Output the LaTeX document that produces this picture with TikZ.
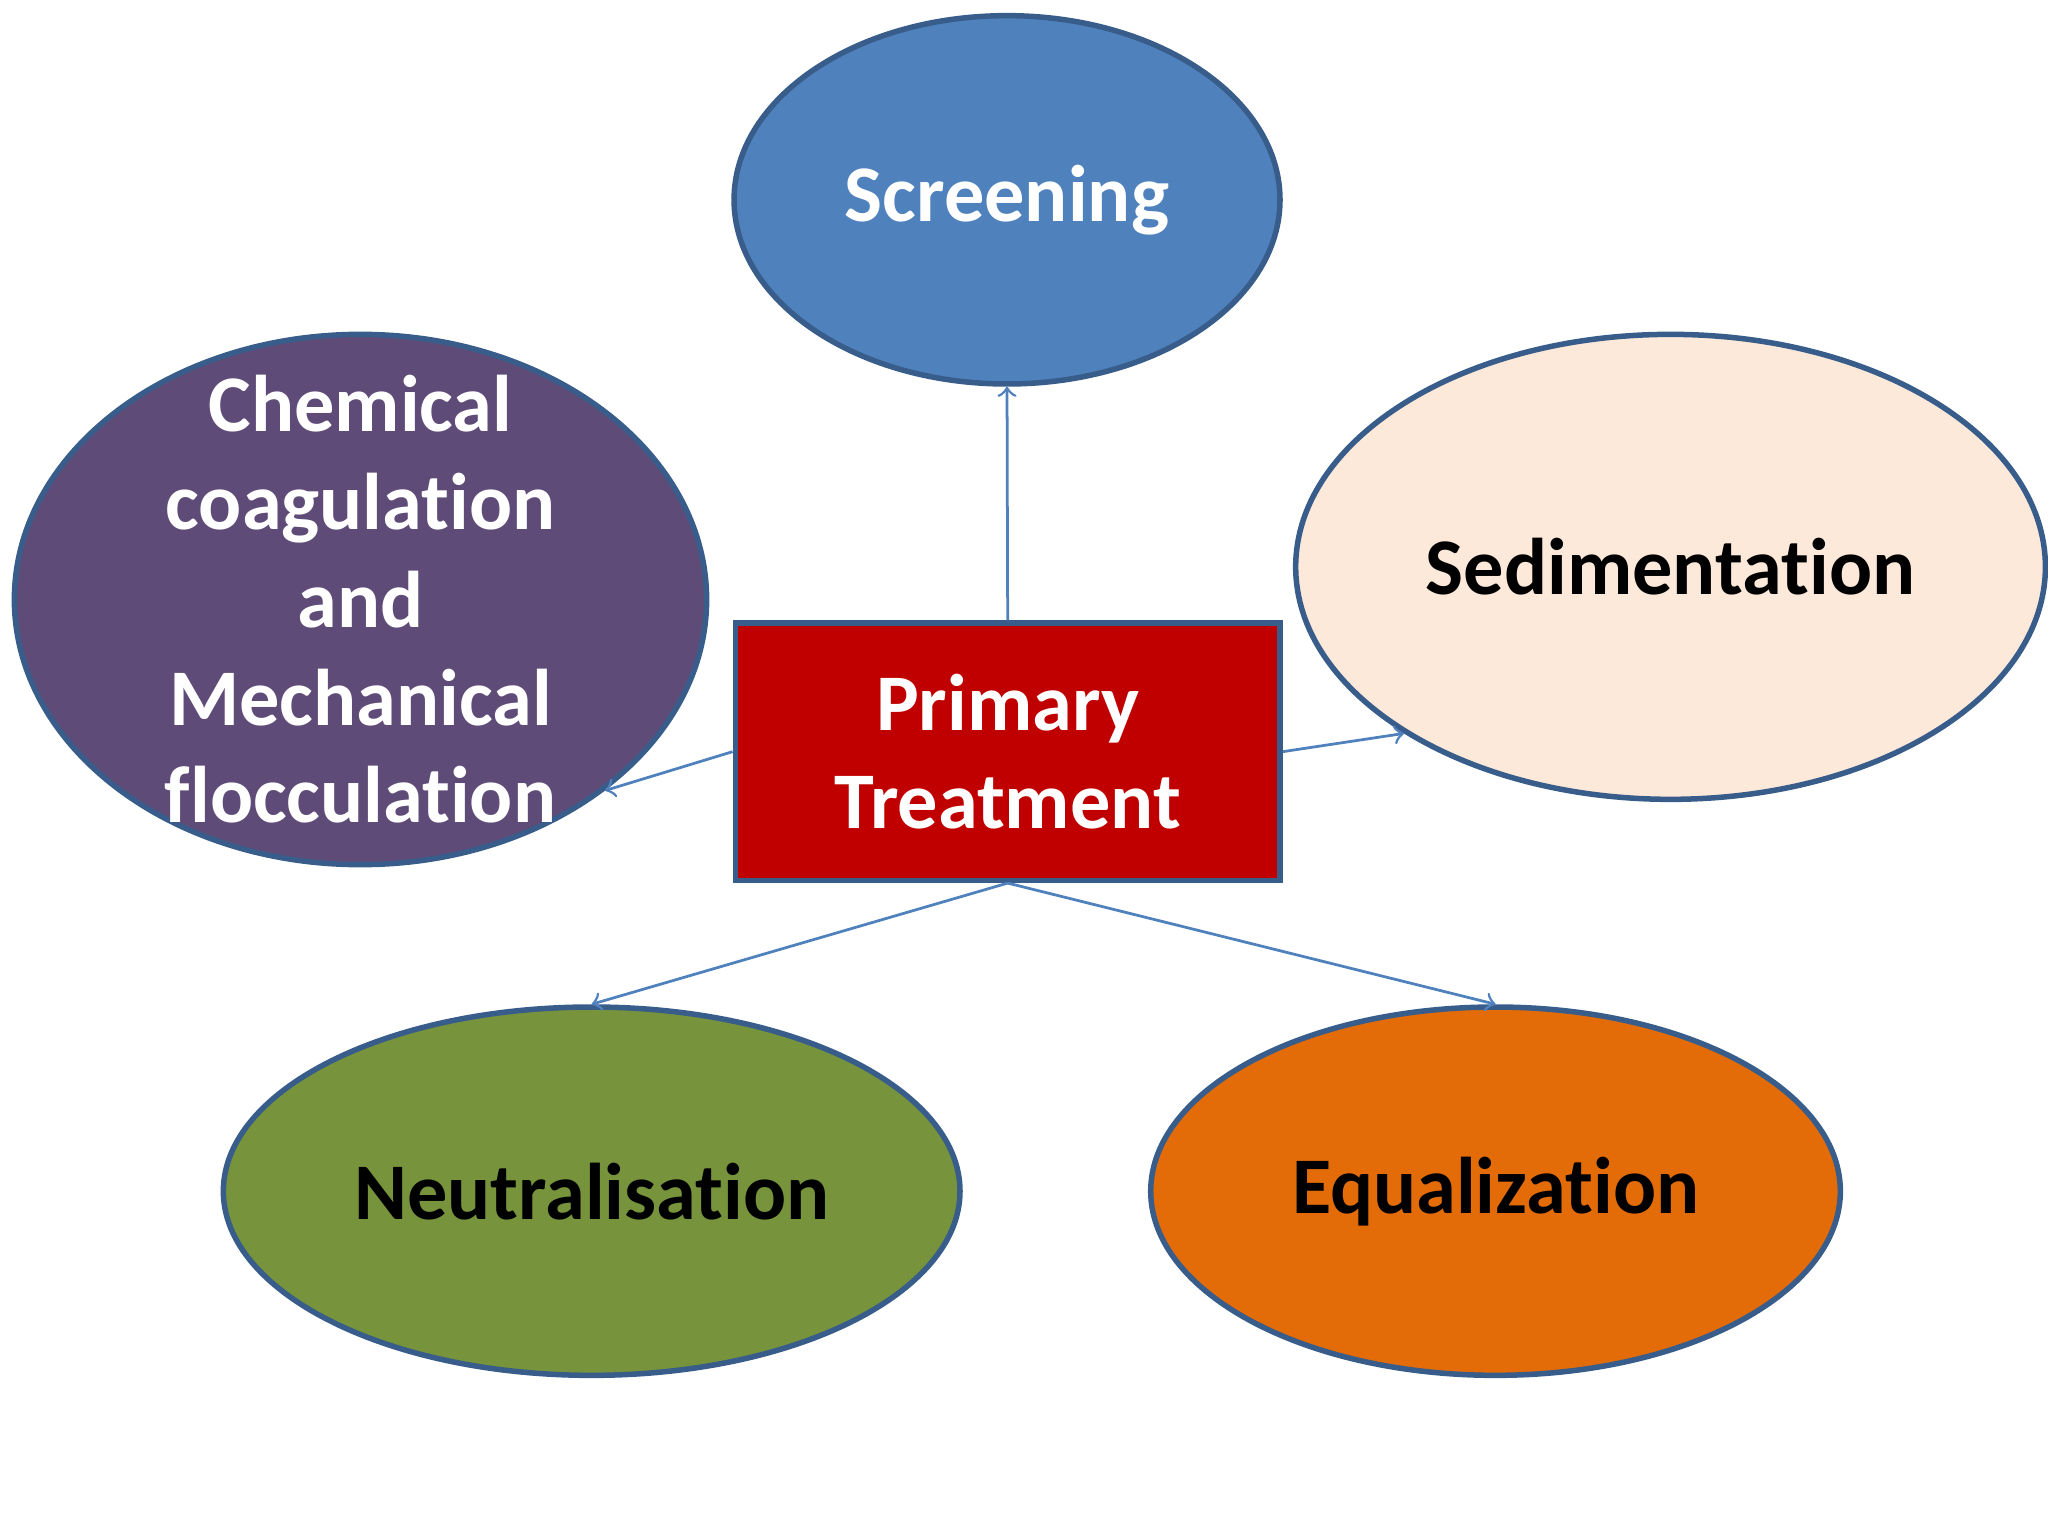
\documentclass[tikz,border=0pt]{standalone}
\usepackage{fontspec}
\setmainfont{Carlito}[Ligatures=NoCommon]
\usetikzlibrary{shapes.geometric}
\definecolor{edgeblue}{HTML}{385D8A}
\definecolor{linkblue}{HTML}{4F81BD}
\definecolor{scrfill}{HTML}{4F81BD}
\definecolor{chemfill}{HTML}{5F4B78}
\definecolor{sedfill}{HTML}{FDE9D9}
\definecolor{primfill}{HTML}{C00000}
\definecolor{neufill}{HTML}{77933C}
\definecolor{equfill}{HTML}{E36C09}
\begin{document}
\begin{tikzpicture}[
		blob/.style={ellipse, draw=edgeblue, line width=1.2pt, inner sep=0pt},
		word/.style={align=center, font=\fontsize{17.5}{21.3}\selectfont\bfseries},
		link/.style={draw=linkblue, line width=0.6pt, -to}]
		\useasboundingbox (0,0) rectangle (15.68,-11.76);
		% outer steps
		\node [blob, fill=scrfill, minimum width=4.18cm, minimum height=2.82cm,
			label={[word, text=white]center:Screening}] (scr) at (7.71,-1.53) {};
		\node [blob, fill=chemfill, minimum width=5.30cm, minimum height=4.06cm,
			label={[word, text=white]center:Chemical\\coagulation\\and\\Mechanical\\flocculation}] (chem) at (2.76,-4.59) {};
		\node [blob, fill=sedfill, minimum width=5.74cm, minimum height=3.56cm,
			label={[word, text=black]center:Sedimentation}] (sed) at (12.79,-4.34) {};
		\node [blob, fill=neufill, minimum width=5.64cm, minimum height=2.82cm,
			label={[word, text=black]center:Neutralisation}] (neu) at (4.53,-9.12) {};
		\node [blob, fill=equfill, minimum width=5.28cm, minimum height=2.82cm,
			label={[word, text=black]center:Equalization}] (equ) at (11.45,-9.12) {};
		% centre box
		\node [word, rectangle, draw=edgeblue, line width=1.2pt, fill=primfill, text=white,
			minimum width=4.17cm, minimum height=1.97cm] (prim) at (7.715,-5.755) {Primary\\Treatment};
		% links
		\draw [link] (prim.north) -- (scr.south);
		\draw [link] (prim.west) -- (chem.-38);
		\draw [link] (prim.east) -- (sed.212);
		\draw [link] (prim.south) -- (neu.north);
		\draw [link] (prim.south) -- (equ.north);
	\end{tikzpicture}
\end{document}
